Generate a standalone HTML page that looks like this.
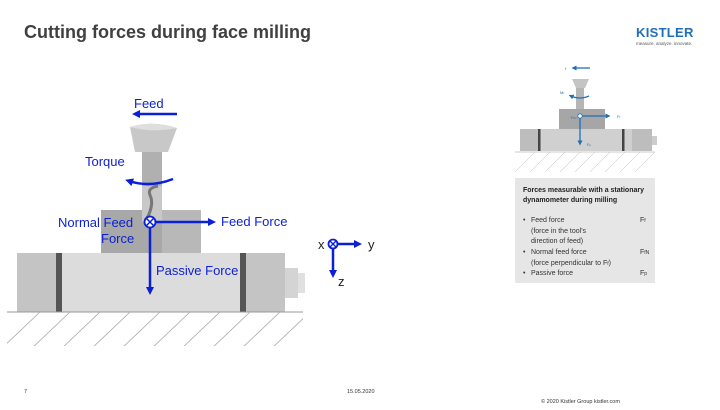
<!DOCTYPE html>
<html><head><meta charset="utf-8"><style>
body{margin:0;width:720px;height:405px;background:#fff;overflow:hidden;font-family:"Liberation Sans",sans-serif}
</style></head><body>
<svg width="720" height="405" xmlns="http://www.w3.org/2000/svg" font-family="Liberation Sans, sans-serif">
<defs>
<marker id="ab" markerWidth="8" markerHeight="8" refX="4" refY="4" orient="auto" markerUnits="userSpaceOnUse"><path d="M0,0 L8,4 L0,8 z" fill="#0a1fd6"/></marker>
<marker id="as" markerWidth="5" markerHeight="5" refX="2.5" refY="2.5" orient="auto" markerUnits="userSpaceOnUse"><path d="M0,0 L5,2.5 L0,5 z" fill="#1f6fb8"/></marker>
<clipPath id="hc"><rect x="7" y="312" width="296" height="34"/></clipPath>
<clipPath id="hc2"><rect x="515" y="152" width="140" height="20"/></clipPath>
</defs>
<text x="24" y="38" font-size="18" font-weight="bold" fill="#404040">Cutting forces during face milling</text>
<text x="636" y="37" font-size="13" font-weight="bold" fill="#1f6fb8" letter-spacing="0.3">KISTLER</text>
<text x="636" y="45" font-size="4.5" fill="#555">measure. analyze. innovate.</text>

<rect x="17" y="253" width="268" height="59" fill="#dcdcdc"/>
<rect x="17" y="253" width="39" height="59" fill="#c4c4c4"/>
<rect x="246" y="253" width="39" height="59" fill="#c4c4c4"/>
<rect x="56" y="253" width="6" height="59" fill="#555"/>
<rect x="240" y="253" width="6" height="59" fill="#555"/>
<rect x="285" y="268" width="13" height="30" fill="#d4d4d4"/>
<rect x="298" y="273" width="7" height="20" fill="#e0e0e0"/>
<line x1="7" y1="312" x2="303" y2="312" stroke="#999"/>
<g clip-path="url(#hc)" stroke="#aaa" stroke-width="0.8">
<line x1="0" y1="350" x2="40" y2="312"/><line x1="30" y1="350" x2="70" y2="312"/><line x1="60" y1="350" x2="100" y2="312"/><line x1="90" y1="350" x2="130" y2="312"/><line x1="120" y1="350" x2="160" y2="312"/><line x1="150" y1="350" x2="190" y2="312"/><line x1="180" y1="350" x2="220" y2="312"/><line x1="210" y1="350" x2="250" y2="312"/><line x1="240" y1="350" x2="280" y2="312"/><line x1="270" y1="350" x2="310" y2="312"/></g>
<rect x="101" y="210" width="100" height="43" fill="#a8a8a8"/>
<rect x="162" y="210" width="39" height="43" fill="#b8b8b8"/>
<rect x="142" y="152" width="20" height="34" fill="#b0b0b0"/>
<rect x="142" y="186" width="20" height="36" fill="#c8c8c8"/>
<path d="M145,222 Q155,205 150,195 Q147,188 158,186" stroke="#777" stroke-width="3" fill="none"/>
<path d="M130,127 Q152,120 177,128 L168,152 L135,152 Z" fill="#c8c8c8"/>
<path d="M130,127 Q152,120 177,128 Q152,133 130,127Z" fill="#dedede"/>
<line x1="177" y1="114" x2="136" y2="114" stroke="#0a1fd6" stroke-width="2.5" marker-end="url(#ab)"/>
<text x="134" y="108" font-size="13" fill="#0a1fd6">Feed</text>
<text x="85" y="166" font-size="13" fill="#0a1fd6">Torque</text>
<path d="M173,179 Q150,188 129,181" stroke="#0a1fd6" stroke-width="2.5" fill="none" marker-end="url(#ab)"/>
<line x1="150" y1="222" x2="212" y2="222" stroke="#0a1fd6" stroke-width="2.5" marker-end="url(#ab)"/>
<line x1="150" y1="222" x2="150" y2="291" stroke="#0a1fd6" stroke-width="2.5" marker-end="url(#ab)"/>
<circle cx="150" cy="222" r="5.5" fill="#fff" stroke="#0a1fd6" stroke-width="1.8"/>
<path d="M146.5,218.5 L153.5,225.5 M153.5,218.5 L146.5,225.5" stroke="#0a1fd6" stroke-width="1.5"/>
<text x="221" y="226" font-size="13" fill="#0a1fd6">Feed Force</text>
<text x="58" y="227" font-size="13" fill="#0a1fd6">Normal Feed</text>
<text x="101" y="243" font-size="13" fill="#0a1fd6">Force</text>
<text x="156" y="275" font-size="13" fill="#0a1fd6">Passive Force</text>
<line x1="333" y1="244" x2="358" y2="244" stroke="#0a1fd6" stroke-width="2.5" marker-end="url(#ab)"/>
<line x1="333" y1="244" x2="333" y2="274" stroke="#0a1fd6" stroke-width="2.5" marker-end="url(#ab)"/>
<circle cx="333" cy="244" r="4.5" fill="#fff" stroke="#0a1fd6" stroke-width="1.8"/>
<path d="M330,241 L336,247 M336,241 L330,247" stroke="#0a1fd6" stroke-width="1.3"/>
<text x="318" y="249" font-size="13" fill="#222">x</text>
<text x="368" y="249" font-size="13" fill="#222">y</text>
<text x="338" y="286" font-size="13" fill="#222">z</text>

<rect x="520" y="129" width="132" height="22" fill="#d0d0d0"/>
<rect x="520" y="129" width="20" height="22" fill="#bdbdbd"/>
<rect x="632" y="129" width="20" height="22" fill="#bdbdbd"/>
<rect x="538" y="129" width="2.5" height="22" fill="#444"/>
<rect x="622" y="129" width="2.5" height="22" fill="#444"/>
<rect x="652" y="136" width="5" height="9" fill="#ccc"/>
<rect x="559" y="109" width="46" height="20" fill="#a6a6a6"/>
<rect x="576" y="87" width="8" height="22" fill="#b5b5b5"/>
<path d="M572,79 L589,79 L585,88 L576,88Z" fill="#c4c4c4"/>
<line x1="515" y1="152" x2="655" y2="152" stroke="#999" stroke-width="0.6"/>
<g clip-path="url(#hc2)" stroke="#bbb" stroke-width="0.5"><line x1="515" y1="172" x2="535" y2="152"/><line x1="530" y1="172" x2="550" y2="152"/><line x1="545" y1="172" x2="565" y2="152"/><line x1="560" y1="172" x2="580" y2="152"/><line x1="575" y1="172" x2="595" y2="152"/><line x1="590" y1="172" x2="610" y2="152"/><line x1="605" y1="172" x2="625" y2="152"/><line x1="620" y1="172" x2="640" y2="152"/><line x1="635" y1="172" x2="655" y2="152"/></g>
<line x1="590" y1="68" x2="574" y2="68" stroke="#1f6fb8" stroke-width="1.3" marker-end="url(#as)"/>
<text x="565" y="70" font-size="4" fill="#1f6fb8">f</text>
<path d="M589,96 Q580,100 571,96" stroke="#1f6fb8" stroke-width="1.3" fill="none" marker-end="url(#as)"/>
<text x="560" y="94" font-size="4" fill="#1f6fb8">M<tspan font-size="3">t</tspan></text>
<line x1="580" y1="116" x2="608" y2="116" stroke="#1f6fb8" stroke-width="1.3" marker-end="url(#as)"/>
<line x1="580" y1="116" x2="580" y2="143" stroke="#1f6fb8" stroke-width="1.3" marker-end="url(#as)"/>
<circle cx="580" cy="116" r="2.2" fill="#fff" stroke="#1f6fb8" stroke-width="0.8"/>
<text x="617" y="118" font-size="4" fill="#1f6fb8">F<tspan font-size="3">f</tspan></text>
<text x="571" y="119" font-size="4" fill="#1f6fb8">F<tspan font-size="3">fN</tspan></text>
<text x="587" y="146" font-size="4" fill="#1f6fb8">F<tspan font-size="3">p</tspan></text>

<rect x="515" y="178" width="140" height="105" fill="#e6e6e6"/>
<g font-size="7" fill="#333">
<text x="523" y="192" font-weight="bold" fill="#222">Forces measurable with a stationary</text>
<text x="523" y="202" font-weight="bold" fill="#222">dynamometer during milling</text>
<text x="523" y="222">•</text><text x="531" y="222">Feed force</text><text x="640" y="222">F<tspan font-size="5">f</tspan></text>
<text x="531" y="233">(force in the tool's</text>
<text x="531" y="243">direction of feed)</text>
<text x="523" y="254">•</text><text x="531" y="254">Normal feed force</text><text x="640" y="254">F<tspan font-size="5">fN</tspan></text>
<text x="531" y="265">(force perpendicular to F<tspan font-size="5">f</tspan>)</text>
<text x="523" y="275">•</text><text x="531" y="275">Passive force</text><text x="640" y="275">F<tspan font-size="5">p</tspan></text>
</g>

<text x="24" y="393" font-size="5.5" fill="#333">7</text>
<text x="347" y="393" font-size="5.5" fill="#333">15.05.2020</text>
<text x="541" y="403" font-size="5.5" fill="#333">© 2020 Kistler Group    kistler.com</text>
</svg>
</body></html>
